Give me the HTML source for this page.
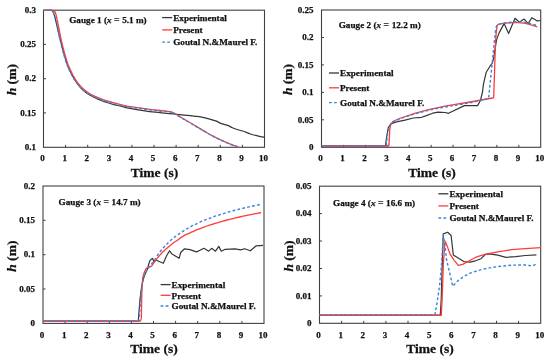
<!DOCTYPE html>
<html><head><meta charset="utf-8"><style>
html,body{margin:0;padding:0;background:#fff;}
body{width:550px;height:361px;overflow:hidden;}
svg{display:block;}
text{font-family:'Liberation Serif', 'Times New Roman', serif;font-weight:bold;fill:#111;stroke:#111;stroke-width:0.25px;}
.t{font-size:9px;}
.lg{font-size:9.2px;}
.ax{font-size:12.9px;}
</style></head><body>
<svg width="550" height="361" viewBox="0 0 550 361">
<rect width="550" height="361" fill="#fff"/>
<rect x="43.5" y="10.2" width="221" height="137.1" fill="none" stroke="#404040" stroke-width="1.1"/>
<text x="42.6" y="161" text-anchor="middle" class="t">0</text>
<line x1="65.6" y1="147.3" x2="65.6" y2="144.8" stroke="#404040" stroke-width="1"/>
<text x="64.7" y="161" text-anchor="middle" class="t">1</text>
<line x1="87.7" y1="147.3" x2="87.7" y2="144.8" stroke="#404040" stroke-width="1"/>
<text x="86.8" y="161" text-anchor="middle" class="t">2</text>
<line x1="109.8" y1="147.3" x2="109.8" y2="144.8" stroke="#404040" stroke-width="1"/>
<text x="108.9" y="161" text-anchor="middle" class="t">3</text>
<line x1="131.9" y1="147.3" x2="131.9" y2="144.8" stroke="#404040" stroke-width="1"/>
<text x="131" y="161" text-anchor="middle" class="t">4</text>
<line x1="154" y1="147.3" x2="154" y2="144.8" stroke="#404040" stroke-width="1"/>
<text x="153.1" y="161" text-anchor="middle" class="t">5</text>
<line x1="176.1" y1="147.3" x2="176.1" y2="144.8" stroke="#404040" stroke-width="1"/>
<text x="175.2" y="161" text-anchor="middle" class="t">6</text>
<line x1="198.2" y1="147.3" x2="198.2" y2="144.8" stroke="#404040" stroke-width="1"/>
<text x="197.3" y="161" text-anchor="middle" class="t">7</text>
<line x1="220.3" y1="147.3" x2="220.3" y2="144.8" stroke="#404040" stroke-width="1"/>
<text x="219.4" y="161" text-anchor="middle" class="t">8</text>
<line x1="242.4" y1="147.3" x2="242.4" y2="144.8" stroke="#404040" stroke-width="1"/>
<text x="241.5" y="161" text-anchor="middle" class="t">9</text>
<text x="263.6" y="161" text-anchor="middle" class="t">10</text>
<text x="36" y="149.9" text-anchor="end" class="t">0.1</text>
<line x1="43.5" y1="112.9" x2="46" y2="112.9" stroke="#404040" stroke-width="1"/>
<text x="36" y="115.6" text-anchor="end" class="t">0.15</text>
<line x1="43.5" y1="78.7" x2="46" y2="78.7" stroke="#404040" stroke-width="1"/>
<text x="36" y="81.4" text-anchor="end" class="t">0.2</text>
<line x1="43.5" y1="44.4" x2="46" y2="44.4" stroke="#404040" stroke-width="1"/>
<text x="36" y="47.1" text-anchor="end" class="t">0.25</text>
<text x="36" y="12.9" text-anchor="end" class="t">0.3</text>
<text transform="translate(130.8,177.4) scale(1.05,1)" class="ax">Time (s)</text>
<text transform="translate(15.8,79.7) rotate(-90) scale(1.05,1)" class="ax" text-anchor="middle"><tspan font-style="italic">h</tspan> (m)</text>
<text x="69.2" y="23.4" class="lg">Gauge 1 (<tspan font-style="italic">x</tspan> <tspan style="stroke-width:0;font-size:10.5px">=</tspan> 5.1 m)</text>
<path d="M43.5,10.4 C44.8,10.4 49.8,10 51.5,10.4 C53.2,10.8 52.8,11.4 53.5,13 C54.2,14.6 54.9,17.5 55.6,20 C56.3,22.5 56.8,25 57.5,28 C58.2,31 59.1,35.1 59.8,38 C60.5,40.9 61.1,43 61.7,45.5 C62.4,48 63,50.6 63.7,53 C64.4,55.4 65.1,57.8 65.8,60 C66.5,62.2 67.2,64.3 68,66.2 C68.8,68.1 69.5,69.8 70.3,71.5 C71.1,73.2 71.9,74.8 72.7,76.3 C73.5,77.8 74.3,79.2 75.2,80.5 C76.1,81.8 77,83 78,84.3 C79,85.6 80.1,87 81.3,88.3 C82.5,89.5 83.8,90.8 85,91.8 C86.2,92.8 87.1,93.5 88.8,94.5 C90.5,95.5 93,96.8 95,97.8 C97,98.8 98.5,99.5 100.5,100.3 C102.5,101.1 104.9,101.8 107,102.5 C109.1,103.2 110,103.5 113.2,104.3 C116.4,105.1 120.6,106.5 125.9,107.6 C131.2,108.7 139.3,110.1 145,110.9 C150.7,111.8 154.9,112.1 160,112.7 C165.1,113.3 171.1,113.8 175.8,114.3 C180.5,114.8 184.8,115.1 188,115.4 C191.2,115.7 192.9,116.1 195,116.3 C197.1,116.5 198.2,116.4 200.5,116.8 C202.8,117.2 206.3,118.1 208.9,118.8 C211.5,119.5 213.7,120.1 215.8,120.9 C217.9,121.7 219.5,122.9 221.3,123.6 C223.2,124.3 225.1,124.4 226.9,125.1 C228.8,125.8 230.6,126.9 232.4,127.7 C234.2,128.5 236.2,129.2 238,129.8 C239.8,130.4 241.4,130.6 243.5,131.3 C245.6,132 248.1,133.2 250.4,134 C252.7,134.8 255.1,135.3 257.4,135.8 C259.7,136.3 263.1,137 264.3,137.2" fill="none" stroke="#363636" stroke-width="1.2" stroke-linejoin="round"/>
<path d="M43.5,10.4 C45.1,10.4 51.3,10 53.3,10.4 C55.3,10.8 54.9,11.4 55.5,13 C56.1,14.6 56.7,17.5 57.2,20 C57.8,22.5 58.2,25 58.8,28 C59.4,31 60.2,35.1 60.8,38 C61.4,40.9 61.9,43 62.5,45.5 C63.1,48 63.8,50.6 64.5,53 C65.2,55.4 65.8,57.9 66.5,60 C67.2,62.1 67.8,64 68.5,65.8 C69.2,67.6 70,69.2 70.8,70.8 C71.5,72.4 72.2,73.8 73,75.2 C73.8,76.6 74.6,78 75.4,79.3 C76.2,80.6 77,81.8 78,83.1 C79,84.4 80.1,85.7 81.3,86.9 C82.5,88.1 83.8,89.3 85,90.3 C86.2,91.3 87.1,92 88.8,93 C90.5,94 93,95.4 95,96.3 C97,97.2 98.5,97.8 100.5,98.6 C102.5,99.3 104.9,100.1 107,100.8 C109.1,101.5 110,101.9 113.2,102.7 C116.4,103.5 120.6,104.8 125.9,105.8 C131.2,106.8 139.3,107.9 145,108.7 C150.7,109.5 156.2,110.1 160,110.5 C163.8,110.9 166,111 168,111.3 C170,111.6 170.8,111.7 172,112.1 C173.2,112.5 174.3,113.1 175.5,113.8 C176.7,114.5 177.7,115.4 179,116.2 C180.3,117 182,118 183.2,118.7 C184.4,119.4 184,119.2 186,120.3 C188,121.4 192.1,123.9 195,125.6 C197.9,127.3 200.5,129 203.3,130.6 C206.1,132.2 208.8,133.9 211.6,135.4 C214.4,136.9 217,138.2 220,139.6 C223,141 226.5,142.5 229.7,143.8 C232.9,145.1 237.5,146.7 239.1,147.3" fill="none" stroke="#ff3b3b" stroke-width="1.3" stroke-linejoin="round"/>
<path d="M43.5,10.4 C44.9,10.4 50.1,10 51.8,10.4 C53.5,10.8 53.1,11.4 53.8,13 C54.5,14.6 55.2,17.5 55.8,20 C56.4,22.5 57,25 57.6,28 C58.2,31 59,35.1 59.6,38 C60.2,40.9 60.8,43 61.4,45.5 C62,48 62.7,50.6 63.4,53 C64.1,55.4 64.7,57.8 65.4,60 C66.1,62.2 66.8,64.1 67.5,66 C68.2,67.9 69,69.5 69.8,71.2 C70.6,72.9 71.4,74.5 72.2,76 C73,77.5 73.7,78.7 74.6,80 C75.5,81.3 76.5,82.7 77.5,84 C78.5,85.3 79.6,86.6 80.8,87.8 C82,89 83.3,90.2 84.6,91.2 C85.9,92.2 86.8,93 88.5,94 C90.2,95 93,96.2 95,97.1 C97,98 98.5,98.7 100.5,99.4 C102.5,100.1 104.9,100.8 107,101.5 C109.1,102.2 110,102.5 113.2,103.3 C116.4,104.1 120.6,105.4 125.9,106.4 C131.2,107.4 139.3,108.4 145,109.2 C150.7,110 156.2,110.6 160,111 C163.8,111.4 166,111.5 168,111.7 C170,111.9 170.8,112 172,112.4 C173.2,112.8 174.3,113.3 175.5,114 C176.7,114.7 177.7,115.6 179,116.4 C180.3,117.2 182,118.2 183.2,118.9 C184.4,119.6 184,119.3 186,120.5 C188,121.7 192.1,124.1 195,125.8 C197.9,127.5 200.5,129.1 203.3,130.7 C206.1,132.3 208.8,134 211.6,135.5 C214.4,137 217,138.3 220,139.7 C223,141.1 226.5,142.6 229.7,143.9 C232.9,145.2 237.5,146.7 239.1,147.3" fill="none" stroke="#3a85d6" stroke-width="1.4" stroke-linejoin="round" stroke-dasharray="2.8 2.2"/>
<line x1="162.2" y1="17.6" x2="172.2" y2="17.6" stroke="#363636" stroke-width="1.3"/>
<text x="173.2" y="20.8" class="lg">Experimental</text>
<line x1="162.2" y1="29.9" x2="172.2" y2="29.9" stroke="#ff3b3b" stroke-width="1.3"/>
<text x="173.2" y="33.1" class="lg">Present</text>
<line x1="162.2" y1="42.2" x2="172.2" y2="42.2" stroke="#3a85d6" stroke-width="1.3" stroke-dasharray="2.8 2.2"/>
<text x="173.2" y="45.4" class="lg">Goutal N.&amp;Maurel F.</text>
<rect x="321.5" y="10" width="219.2" height="137.3" fill="none" stroke="#404040" stroke-width="1.1"/>
<text x="320.6" y="161" text-anchor="middle" class="t">0</text>
<line x1="343.4" y1="147.3" x2="343.4" y2="144.8" stroke="#404040" stroke-width="1"/>
<text x="342.5" y="161" text-anchor="middle" class="t">1</text>
<line x1="365.3" y1="147.3" x2="365.3" y2="144.8" stroke="#404040" stroke-width="1"/>
<text x="364.4" y="161" text-anchor="middle" class="t">2</text>
<line x1="387.3" y1="147.3" x2="387.3" y2="144.8" stroke="#404040" stroke-width="1"/>
<text x="386.4" y="161" text-anchor="middle" class="t">3</text>
<line x1="409.2" y1="147.3" x2="409.2" y2="144.8" stroke="#404040" stroke-width="1"/>
<text x="408.3" y="161" text-anchor="middle" class="t">4</text>
<line x1="431.1" y1="147.3" x2="431.1" y2="144.8" stroke="#404040" stroke-width="1"/>
<text x="430.2" y="161" text-anchor="middle" class="t">5</text>
<line x1="453" y1="147.3" x2="453" y2="144.8" stroke="#404040" stroke-width="1"/>
<text x="452.1" y="161" text-anchor="middle" class="t">6</text>
<line x1="474.9" y1="147.3" x2="474.9" y2="144.8" stroke="#404040" stroke-width="1"/>
<text x="474" y="161" text-anchor="middle" class="t">7</text>
<line x1="496.9" y1="147.3" x2="496.9" y2="144.8" stroke="#404040" stroke-width="1"/>
<text x="496" y="161" text-anchor="middle" class="t">8</text>
<line x1="518.8" y1="147.3" x2="518.8" y2="144.8" stroke="#404040" stroke-width="1"/>
<text x="517.9" y="161" text-anchor="middle" class="t">9</text>
<text x="539.8" y="161" text-anchor="middle" class="t">10</text>
<text x="313.5" y="150" text-anchor="end" class="t">0</text>
<line x1="321.5" y1="119.8" x2="324" y2="119.8" stroke="#404040" stroke-width="1"/>
<text x="313.5" y="122.5" text-anchor="end" class="t">0.05</text>
<line x1="321.5" y1="92.4" x2="324" y2="92.4" stroke="#404040" stroke-width="1"/>
<text x="313.5" y="95.1" text-anchor="end" class="t">0.1</text>
<line x1="321.5" y1="64.9" x2="324" y2="64.9" stroke="#404040" stroke-width="1"/>
<text x="313.5" y="67.6" text-anchor="end" class="t">0.15</text>
<line x1="321.5" y1="37.5" x2="324" y2="37.5" stroke="#404040" stroke-width="1"/>
<text x="313.5" y="40.2" text-anchor="end" class="t">0.2</text>
<text x="313.5" y="12.7" text-anchor="end" class="t">0.25</text>
<text transform="translate(408.3,176.9) scale(1.05,1)" class="ax">Time (s)</text>
<text transform="translate(292.3,79.5) rotate(-90) scale(1.05,1)" class="ax" text-anchor="middle"><tspan font-style="italic">h</tspan> (m)</text>
<text x="338.7" y="28.2" class="lg">Gauge 2 (<tspan font-style="italic">x</tspan> <tspan style="stroke-width:0;font-size:10.5px">=</tspan> 12.2 m)</text>
<polyline points="321.5,145.9 385.5,145.9 386.5,138 388.3,127.7 391.1,123.6 396.6,121.9 405,120.1 413.3,118 421.6,117.3 425.7,115.9 432.7,113.2 438.2,112.2 445.2,112.5 448.5,113.3 464.4,105.6 477.6,105.6 480.3,100.8 482.4,92.5 483.5,83.8 486.2,72.3 490.8,65 492.4,63 493.9,56.7 496,43.2 496.8,39.1 499.1,32.9 504.1,23.6 508.6,33.6 515,18.2 519.5,22.3 524.1,19.1 528.2,23.6 531.8,17.7 537.3,20.9 540.5,20.5" fill="none" stroke="#363636" stroke-width="1.2" stroke-linejoin="round"/>
<polyline points="321.5,145.9 388.9,145.9 389.4,136 389.9,128.5 390.8,124.5 392.5,122 395,120.5 400.8,118 414.7,113.4 428.5,109.7 445,106.1 470,102 492.8,98 493.7,97.4 494.6,70 495.5,42 496.3,32 497,26.5 497.8,24.8 499,24.1 504.6,23.2 512.9,22.7 518,22.6 524,23.2 529.5,24.3 537.3,26.8" fill="none" stroke="#ff3b3b" stroke-width="1.3" stroke-linejoin="round"/>
<polyline points="321.5,145.9 386.2,145.9 387.5,134 389.2,126.3 392.5,121.8 400.8,118.5 414.7,113.9 428.5,110.3 445,107 470,102.8 488,98.7 488.6,98 490.5,80 492.5,60 494.6,39.4 495.6,30 496.4,26.5 497.6,24.8 499,24.1 504.6,23 510.4,22.3 517.7,21.6 526.8,22.7 536.8,25.5" fill="none" stroke="#3a85d6" stroke-width="1.4" stroke-linejoin="round" stroke-dasharray="2.8 2.2"/>
<line x1="329" y1="73" x2="339" y2="73" stroke="#363636" stroke-width="1.3"/>
<text x="340" y="76.2" class="lg">Experimental</text>
<line x1="329" y1="87.8" x2="339" y2="87.8" stroke="#ff3b3b" stroke-width="1.3"/>
<text x="340" y="91" class="lg">Present</text>
<line x1="329" y1="102.6" x2="339" y2="102.6" stroke="#3a85d6" stroke-width="1.3" stroke-dasharray="2.8 2.2"/>
<text x="340" y="105.8" class="lg">Goutal N.&amp;Maurel F.</text>
<rect x="43" y="186" width="221" height="137.4" fill="none" stroke="#404040" stroke-width="1.1"/>
<text x="42.1" y="337.8" text-anchor="middle" class="t">0</text>
<line x1="65.1" y1="323.4" x2="65.1" y2="320.9" stroke="#404040" stroke-width="1"/>
<text x="64.2" y="337.8" text-anchor="middle" class="t">1</text>
<line x1="87.2" y1="323.4" x2="87.2" y2="320.9" stroke="#404040" stroke-width="1"/>
<text x="86.3" y="337.8" text-anchor="middle" class="t">2</text>
<line x1="109.3" y1="323.4" x2="109.3" y2="320.9" stroke="#404040" stroke-width="1"/>
<text x="108.4" y="337.8" text-anchor="middle" class="t">3</text>
<line x1="131.4" y1="323.4" x2="131.4" y2="320.9" stroke="#404040" stroke-width="1"/>
<text x="130.5" y="337.8" text-anchor="middle" class="t">4</text>
<line x1="153.5" y1="323.4" x2="153.5" y2="320.9" stroke="#404040" stroke-width="1"/>
<text x="152.6" y="337.8" text-anchor="middle" class="t">5</text>
<line x1="175.6" y1="323.4" x2="175.6" y2="320.9" stroke="#404040" stroke-width="1"/>
<text x="174.7" y="337.8" text-anchor="middle" class="t">6</text>
<line x1="197.7" y1="323.4" x2="197.7" y2="320.9" stroke="#404040" stroke-width="1"/>
<text x="196.8" y="337.8" text-anchor="middle" class="t">7</text>
<line x1="219.8" y1="323.4" x2="219.8" y2="320.9" stroke="#404040" stroke-width="1"/>
<text x="218.9" y="337.8" text-anchor="middle" class="t">8</text>
<line x1="241.9" y1="323.4" x2="241.9" y2="320.9" stroke="#404040" stroke-width="1"/>
<text x="241" y="337.8" text-anchor="middle" class="t">9</text>
<text x="263.1" y="337.8" text-anchor="middle" class="t">10</text>
<text x="35" y="326.1" text-anchor="end" class="t">0</text>
<line x1="43" y1="289" x2="45.5" y2="289" stroke="#404040" stroke-width="1"/>
<text x="35" y="291.7" text-anchor="end" class="t">0.05</text>
<line x1="43" y1="254.7" x2="45.5" y2="254.7" stroke="#404040" stroke-width="1"/>
<text x="35" y="257.4" text-anchor="end" class="t">0.1</text>
<line x1="43" y1="220.3" x2="45.5" y2="220.3" stroke="#404040" stroke-width="1"/>
<text x="35" y="223" text-anchor="end" class="t">0.15</text>
<text x="35" y="188.7" text-anchor="end" class="t">0.2</text>
<text transform="translate(130.2,352.8) scale(1.05,1)" class="ax">Time (s)</text>
<text transform="translate(16.3,256.2) rotate(-90) scale(1.05,1)" class="ax" text-anchor="middle"><tspan font-style="italic">h</tspan> (m)</text>
<text x="58.6" y="204.5" class="lg">Gauge 3 (<tspan font-style="italic">x</tspan> <tspan style="stroke-width:0;font-size:10.5px">=</tspan> 14.7 m)</text>
<polyline points="43,321 138.3,321 138.9,312.7 140,299.4 141.1,290.5 142,285 143.3,279 145.5,273 147.5,269.1 148.7,264.1 150,260.4 152.5,258.3 154.1,262 155.8,260 163.3,263.3 166.6,255.8 169.5,250.8 171.6,253.7 179.1,258.3 180.7,252.5 184.5,248.8 189.9,249.6 196.5,251.9 200,250.3 203.9,248.3 208.7,251.2 211.6,248.3 215.5,251.2 218.8,246.4 221.3,251.2 225.2,249.3 234.9,248.9 240.7,249.9 244.6,248.7 250.4,250.8 256.2,245.8 263,245.4" fill="none" stroke="#363636" stroke-width="1.2" stroke-linejoin="round"/>
<path d="M43,321 C59.2,321 124.1,321 140.3,321 C140.5,320.5 141.1,321.5 141.3,318 C141.5,314.5 141.5,305.5 141.7,300 C141.8,294.5 142,288.8 142.2,285 C142.4,281.2 142.5,279.5 142.8,277.5 C143.1,275.5 143.7,274.1 144.2,272.8 C144.7,271.5 145.1,270.4 145.6,269.5 C146.1,268.6 146.6,268.1 147.2,267.7 C147.8,267.3 148.4,267.3 149.2,267 C149.9,266.7 150.9,266.8 151.7,266 C152.5,265.2 153,263.9 154,262.5 C155,261.1 156.2,259.4 157.5,257.9 C158.8,256.4 160.1,254.9 161.6,253.3 C163.1,251.7 164.8,250.1 166.6,248.5 C168.4,246.9 170.6,245.1 172.4,243.7 C174.2,242.3 175.9,241.3 177.5,240.2 C179.1,239.1 180.4,237.9 182,236.9 C183.6,235.9 185.3,235 187,234.2 C188.7,233.4 190.3,232.7 192,231.9 C193.7,231.2 195.3,230.4 197,229.7 C198.7,229 200.3,228.4 202,227.8 C203.7,227.2 205.3,226.6 207,226 C208.7,225.4 210.3,224.9 212,224.4 C213.7,223.9 215.3,223.3 217,222.8 C218.7,222.3 220.3,221.9 222,221.4 C223.7,220.9 225.3,220.4 227,220 C228.7,219.6 230.3,219.2 232,218.8 C233.7,218.4 235.3,218 237,217.6 C238.7,217.2 240.3,216.8 242,216.4 C243.7,216 245.3,215.7 247,215.3 C248.7,215 250.3,214.6 252,214.3 C253.7,214 255.5,213.6 257,213.3 C258.5,213 260.4,212.6 261.1,212.5" fill="none" stroke="#ff3b3b" stroke-width="1.3" stroke-linejoin="round"/>
<path d="M43,321 C59,321 122.8,321 138.8,321 C138.9,319.7 139.3,316.5 139.6,313 C139.9,309.5 140.2,303.8 140.5,300 C140.8,296.2 141.3,292.8 141.6,290 C141.9,287.2 142.2,285.1 142.5,283 C142.8,280.9 143,279.2 143.5,277.5 C144,275.8 144.5,274.5 145.5,272.6 C146.5,270.7 148.3,268.2 149.7,266.3 C151.1,264.4 152.4,263.1 154,260.9 C155.6,258.7 157.3,255.5 159,253.2 C160.7,250.9 162.3,249 164,247.1 C165.7,245.2 167.3,243.6 169,242 C170.7,240.4 172.3,238.9 174,237.6 C175.7,236.2 177.3,235.1 179,233.9 C180.7,232.7 182.3,231.7 184,230.6 C185.7,229.5 187.3,228.5 189,227.6 C190.7,226.7 192.3,225.8 194,225 C195.7,224.2 197.3,223.4 199,222.6 C200.7,221.8 202.3,221.1 204,220.4 C205.7,219.7 207.3,219.1 209,218.5 C210.7,217.9 212.3,217.2 214,216.6 C215.7,216 217.3,215.5 219,215 C220.7,214.5 222.3,213.9 224,213.4 C225.7,212.9 227.3,212.4 229,211.9 C230.7,211.4 232.3,210.9 234,210.5 C235.7,210.1 237.3,209.7 239,209.3 C240.7,208.9 242.3,208.4 244,208 C245.7,207.6 247.3,207.3 249,206.9 C250.7,206.5 252.3,206.2 254,205.8 C255.7,205.4 257.9,204.9 259,204.7 C260.1,204.5 260.2,204.4 260.5,204.4" fill="none" stroke="#3a85d6" stroke-width="1.4" stroke-linejoin="round" stroke-dasharray="2.8 2.2"/>
<line x1="160.6" y1="284.6" x2="170.6" y2="284.6" stroke="#363636" stroke-width="1.3"/>
<text x="171.6" y="287.8" class="lg">Experimental</text>
<line x1="160.6" y1="295.3" x2="170.6" y2="295.3" stroke="#ff3b3b" stroke-width="1.3"/>
<text x="171.6" y="298.5" class="lg">Present</text>
<line x1="160.6" y1="306" x2="170.6" y2="306" stroke="#3a85d6" stroke-width="1.3" stroke-dasharray="2.8 2.2"/>
<text x="171.6" y="309.2" class="lg">Goutal N.&amp;Maurel F.</text>
<rect x="319.5" y="186.2" width="221.2" height="137.1" fill="none" stroke="#404040" stroke-width="1.1"/>
<text x="318.6" y="337.8" text-anchor="middle" class="t">0</text>
<line x1="341.6" y1="323.3" x2="341.6" y2="320.8" stroke="#404040" stroke-width="1"/>
<text x="340.7" y="337.8" text-anchor="middle" class="t">1</text>
<line x1="363.7" y1="323.3" x2="363.7" y2="320.8" stroke="#404040" stroke-width="1"/>
<text x="362.8" y="337.8" text-anchor="middle" class="t">2</text>
<line x1="385.9" y1="323.3" x2="385.9" y2="320.8" stroke="#404040" stroke-width="1"/>
<text x="385" y="337.8" text-anchor="middle" class="t">3</text>
<line x1="408" y1="323.3" x2="408" y2="320.8" stroke="#404040" stroke-width="1"/>
<text x="407.1" y="337.8" text-anchor="middle" class="t">4</text>
<line x1="430.1" y1="323.3" x2="430.1" y2="320.8" stroke="#404040" stroke-width="1"/>
<text x="429.2" y="337.8" text-anchor="middle" class="t">5</text>
<line x1="452.2" y1="323.3" x2="452.2" y2="320.8" stroke="#404040" stroke-width="1"/>
<text x="451.3" y="337.8" text-anchor="middle" class="t">6</text>
<line x1="474.3" y1="323.3" x2="474.3" y2="320.8" stroke="#404040" stroke-width="1"/>
<text x="473.4" y="337.8" text-anchor="middle" class="t">7</text>
<line x1="496.5" y1="323.3" x2="496.5" y2="320.8" stroke="#404040" stroke-width="1"/>
<text x="495.6" y="337.8" text-anchor="middle" class="t">8</text>
<line x1="518.6" y1="323.3" x2="518.6" y2="320.8" stroke="#404040" stroke-width="1"/>
<text x="517.7" y="337.8" text-anchor="middle" class="t">9</text>
<text x="539.8" y="337.8" text-anchor="middle" class="t">10</text>
<text x="311.5" y="326" text-anchor="end" class="t">0</text>
<line x1="319.5" y1="295.9" x2="322" y2="295.9" stroke="#404040" stroke-width="1"/>
<text x="311.5" y="298.6" text-anchor="end" class="t">0.01</text>
<line x1="319.5" y1="268.5" x2="322" y2="268.5" stroke="#404040" stroke-width="1"/>
<text x="311.5" y="271.2" text-anchor="end" class="t">0.02</text>
<line x1="319.5" y1="241" x2="322" y2="241" stroke="#404040" stroke-width="1"/>
<text x="311.5" y="243.7" text-anchor="end" class="t">0.03</text>
<line x1="319.5" y1="213.6" x2="322" y2="213.6" stroke="#404040" stroke-width="1"/>
<text x="311.5" y="216.3" text-anchor="end" class="t">0.04</text>
<text x="311.5" y="188.9" text-anchor="end" class="t">0.05</text>
<text transform="translate(406.2,353.1) scale(1.05,1)" class="ax">Time (s)</text>
<text transform="translate(292.7,256) rotate(-90) scale(1.05,1)" class="ax" text-anchor="middle"><tspan font-style="italic">h</tspan> (m)</text>
<text x="333.1" y="205.5" class="lg">Gauge 4 (<tspan font-style="italic">x</tspan> <tspan style="stroke-width:0;font-size:10.5px">=</tspan> 16.6 m)</text>
<polyline points="319.5,315 440.3,315 441.2,300 441.6,285 442.4,260 443.3,233.9 447.7,232.2 451.1,235.5 453.3,254.9 463.8,261.6 470,262.1 475.5,260.8 481.1,258.7 485.2,254.5 489.4,253.8 497.7,255.2 506,257.3 515.7,256.6 525.3,255.5 536.4,254.8" fill="none" stroke="#363636" stroke-width="1.2" stroke-linejoin="round"/>
<polyline points="319.5,315.4 441.2,315.4 442.1,300 443.3,265 445,241.1 447.2,246.1 450,253.8 453.8,259.8 458.3,265.3 462.7,264.4 469.3,260.8 474.9,257.7 478.3,256.3 486.6,253.8 497.7,251.8 511.5,249.7 525.3,248.6 540.6,247.6" fill="none" stroke="#ff3b3b" stroke-width="1.3" stroke-linejoin="round"/>
<polyline points="319.5,314.6 434.9,314.6 436.7,305 439.4,287 441.2,269 442.4,250 443.3,234.4 445.5,250 446.6,260 450.2,275 452.7,286.3 457.4,281.2 462.8,277.1 470,273.2 478.3,270.4 486.6,268.4 497.7,266.6 511.5,265.2 525.3,264.9 532.3,266 537.1,263.8" fill="none" stroke="#3a85d6" stroke-width="1.4" stroke-linejoin="round" stroke-dasharray="2.8 2.2"/>
<line x1="438.4" y1="193.8" x2="448.4" y2="193.8" stroke="#363636" stroke-width="1.3"/>
<text x="449.4" y="197" class="lg">Experimental</text>
<line x1="438.4" y1="205.9" x2="448.4" y2="205.9" stroke="#ff3b3b" stroke-width="1.3"/>
<text x="449.4" y="209.1" class="lg">Present</text>
<line x1="438.4" y1="218" x2="448.4" y2="218" stroke="#3a85d6" stroke-width="1.3" stroke-dasharray="2.8 2.2"/>
<text x="449.4" y="221.2" class="lg">Goutal N.&amp;Maurel F.</text>
</svg>
</body></html>
